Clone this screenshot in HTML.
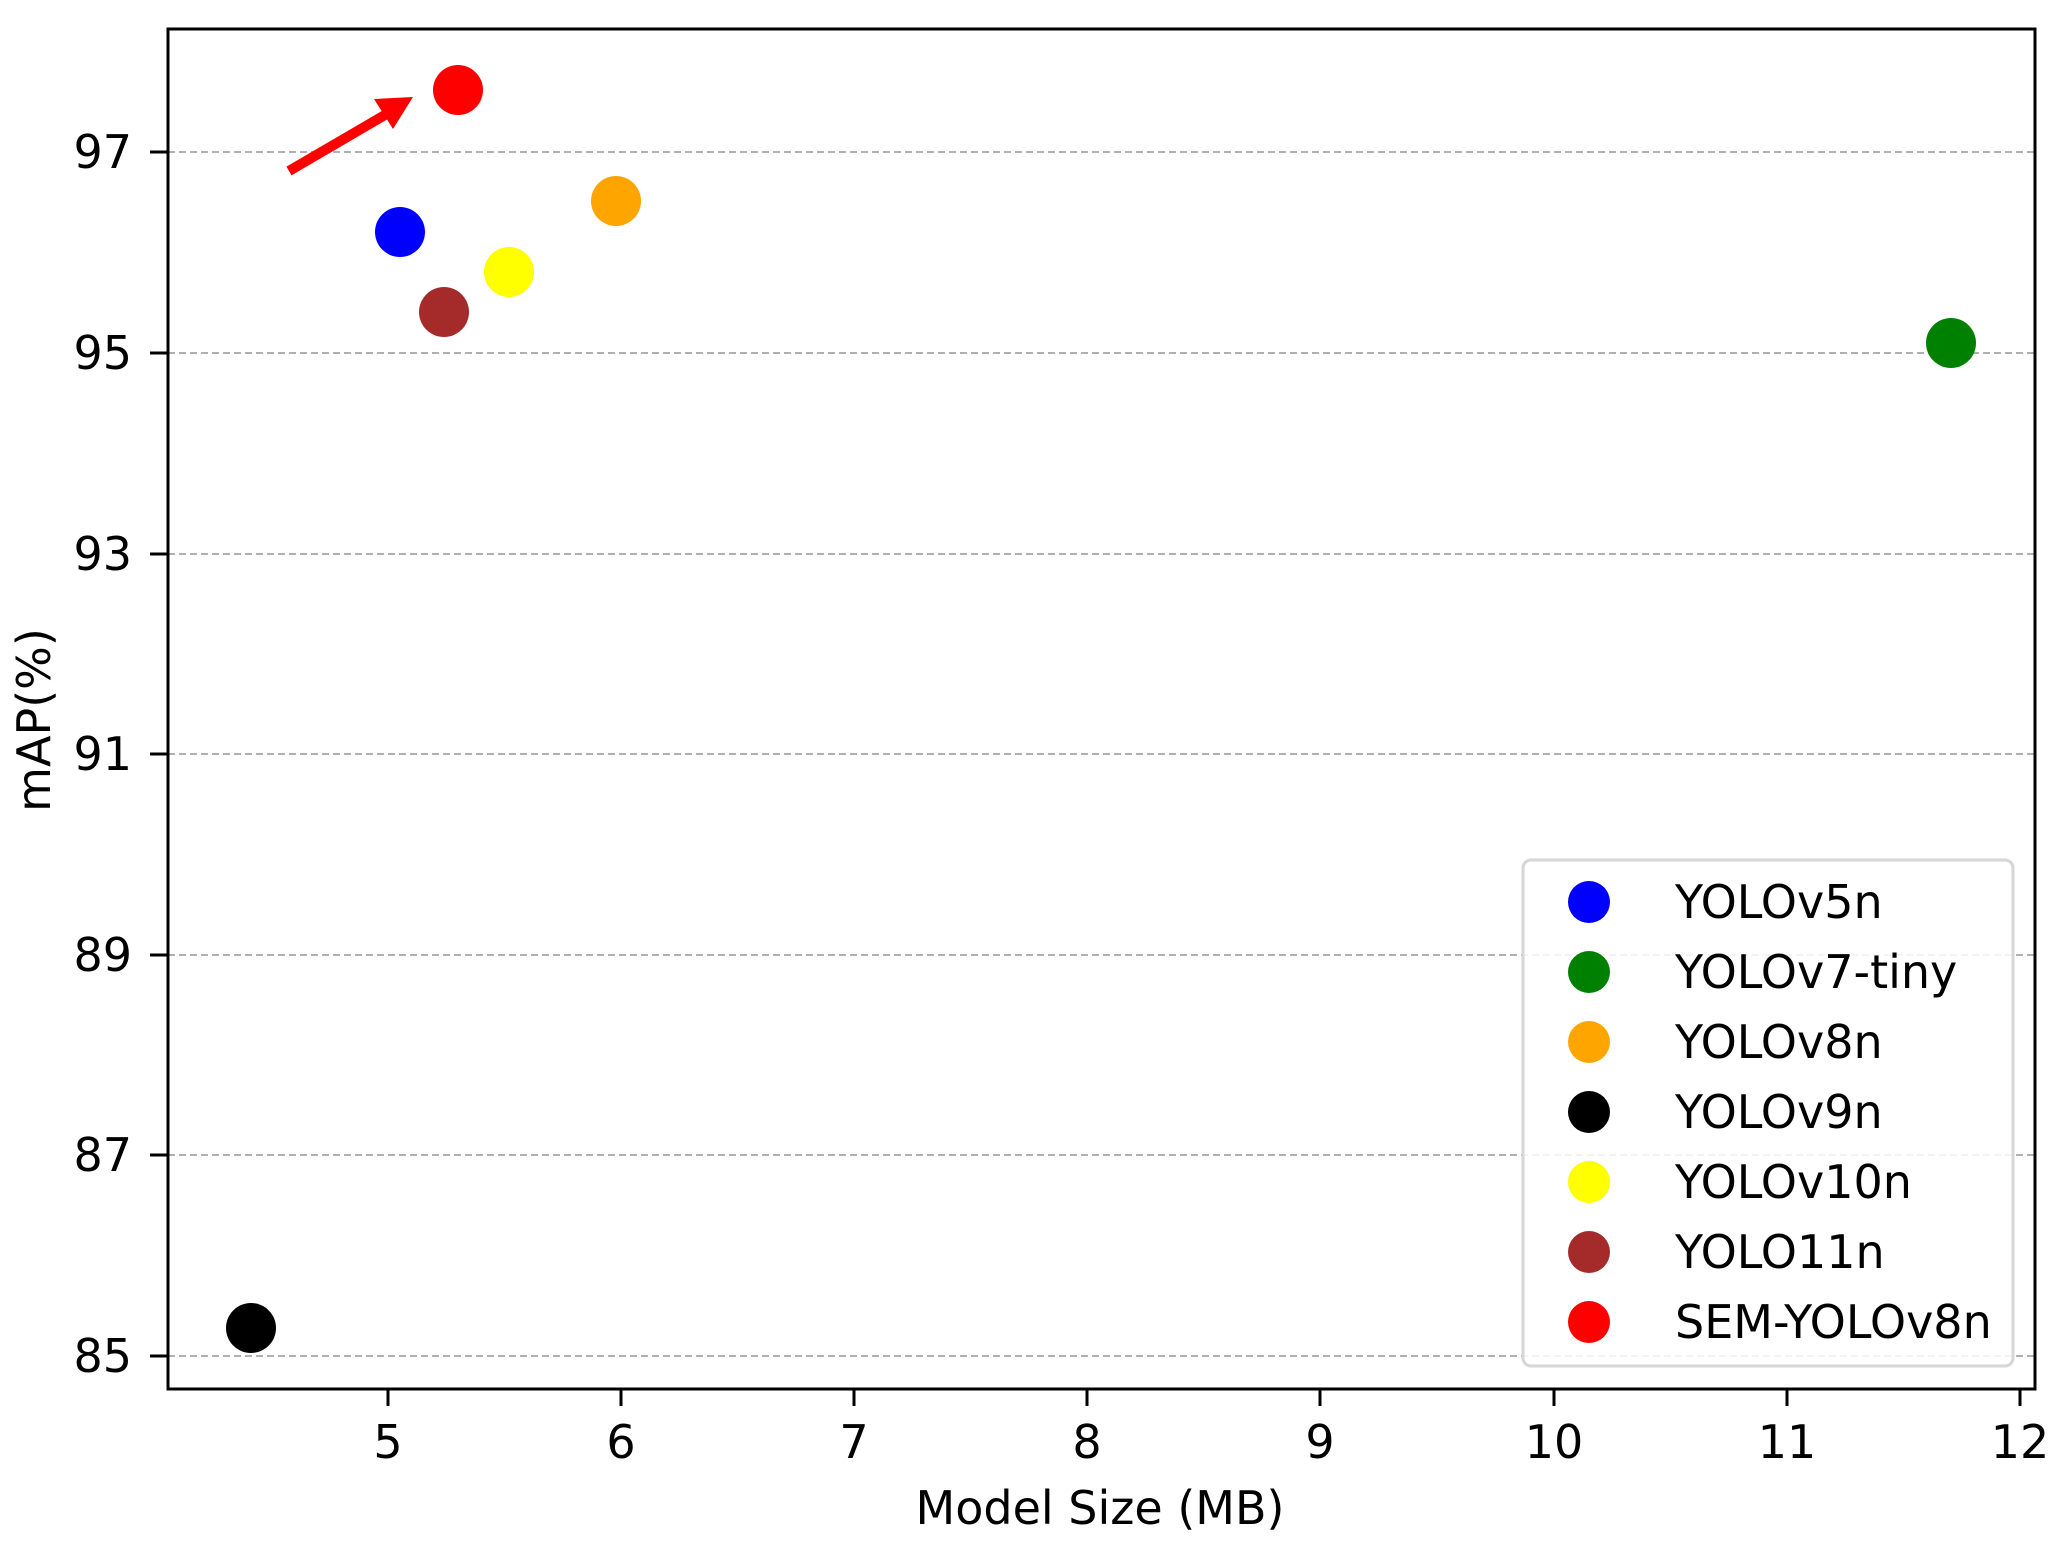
<!DOCTYPE html>
<html><head><meta charset="utf-8"><style>html,body{margin:0;padding:0;background:#fff}</style></head>
<body>
<svg width="2060" height="1542" viewBox="0 0 2060 1542" xmlns="http://www.w3.org/2000/svg" font-family="DejaVu Sans, Liberation Sans, sans-serif">
<rect width="2060" height="1542" fill="#fff"/>
<g stroke="#b0b0b0" stroke-width="2" stroke-dasharray="7,4">
<line x1="168" x2="2035" y1="152" y2="152"/>
<line x1="168" x2="2035" y1="353" y2="353"/>
<line x1="168" x2="2035" y1="554" y2="554"/>
<line x1="168" x2="2035" y1="754" y2="754"/>
<line x1="168" x2="2035" y1="955" y2="955"/>
<line x1="168" x2="2035" y1="1155" y2="1155"/>
<line x1="168" x2="2035" y1="1356" y2="1356"/>
</g>
<g stroke="#000" stroke-width="3">
<line x1="150" x2="168" y1="152" y2="152"/><line x1="150" x2="168" y1="353" y2="353"/>
<line x1="150" x2="168" y1="554" y2="554"/><line x1="150" x2="168" y1="754" y2="754"/>
<line x1="150" x2="168" y1="955" y2="955"/><line x1="150" x2="168" y1="1155" y2="1155"/>
<line x1="150" x2="168" y1="1356" y2="1356"/>
<line x1="388" x2="388" y1="1389" y2="1406"/><line x1="621" x2="621" y1="1389" y2="1406"/>
<line x1="854" x2="854" y1="1389" y2="1406"/><line x1="1087" x2="1087" y1="1389" y2="1406"/>
<line x1="1320" x2="1320" y1="1389" y2="1406"/><line x1="1554" x2="1554" y1="1389" y2="1406"/>
<line x1="1787" x2="1787" y1="1389" y2="1406"/><line x1="2020" x2="2020" y1="1389" y2="1406"/>
</g>
<g font-size="46" fill="#000" text-anchor="end">
<text x="132" y="168">97</text><text x="132" y="369">95</text><text x="132" y="570">93</text>
<text x="132" y="770">91</text><text x="132" y="971">89</text><text x="132" y="1171">87</text>
<text x="132" y="1372">85</text>
</g>
<g font-size="46" fill="#000" text-anchor="middle">
<text x="388" y="1458">5</text><text x="621" y="1458">6</text><text x="854" y="1458">7</text>
<text x="1087" y="1458">8</text><text x="1320" y="1458">9</text><text x="1554" y="1458">10</text>
<text x="1787" y="1458">11</text><text x="2020" y="1458">12</text>
<text x="1100" y="1524">Model Size (MB)</text>
</g>
<text x="50" y="720" font-size="46" text-anchor="middle" transform="rotate(-90 50 720)">mAP(%)</text>
<circle cx="400" cy="232" r="25" fill="#0000ff"/>
<circle cx="1951" cy="343" r="25" fill="#008000"/>
<circle cx="616" cy="201" r="25" fill="#ffa500"/>
<circle cx="251" cy="1328" r="25" fill="#000"/>
<circle cx="509" cy="272" r="25" fill="#ffff00"/>
<circle cx="444" cy="312" r="25" fill="#a52a2a"/>
<circle cx="458" cy="90" r="25" fill="#ff0000"/>
<line x1="289" y1="171" x2="390" y2="112" stroke="#ff0000" stroke-width="10"/>
<polygon points="413,97 374,99 393,129" fill="#ff0000"/>
<rect x="1523" y="860" width="490" height="506" rx="8" fill="#fff" fill-opacity="0.85" stroke="#d6d6d6" stroke-width="3"/>
<g font-size="46" fill="#000">
<circle cx="1589" cy="902" r="21" fill="#0000ff"/><text x="1675" y="918">YOLOv5n</text>
<circle cx="1589" cy="972" r="21" fill="#008000"/><text x="1675" y="988">YOLOv7-tiny</text>
<circle cx="1589" cy="1042" r="21" fill="#ffa500"/><text x="1675" y="1058">YOLOv8n</text>
<circle cx="1589" cy="1112" r="21" fill="#000"/><text x="1675" y="1128">YOLOv9n</text>
<circle cx="1589" cy="1182" r="21" fill="#ffff00"/><text x="1675" y="1198">YOLOv10n</text>
<circle cx="1589" cy="1252" r="21" fill="#a52a2a"/><text x="1675" y="1268">YOLO11n</text>
<circle cx="1589" cy="1322" r="21" fill="#ff0000"/><text x="1675" y="1338">SEM-YOLOv8n</text>
</g>
<rect x="168" y="29" width="1867" height="1360" fill="none" stroke="#000" stroke-width="3"/>
</svg>
</body></html>
